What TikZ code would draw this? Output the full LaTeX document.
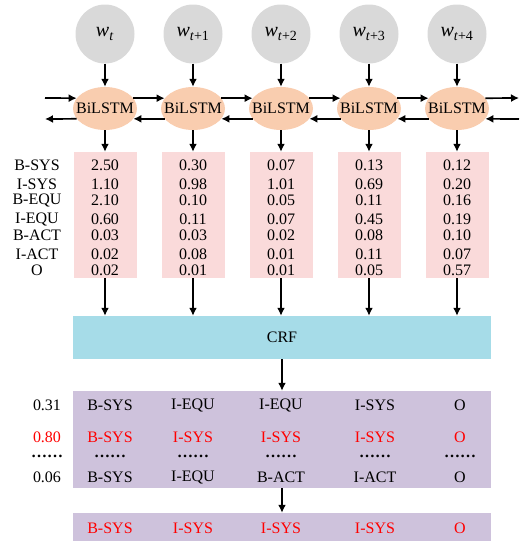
\documentclass[tikz,border=0pt]{standalone}
\usepackage{fontspec}
\setmainfont{Liberation Serif}
\usetikzlibrary{arrows.meta,shapes.geometric}

\definecolor{wordgray}{RGB}{217,217,217}
\definecolor{lstmpeach}{RGB}{249,205,175}
\definecolor{scorepink}{RGB}{250,218,218}
\definecolor{crfcyan}{RGB}{166,220,232}
\definecolor{tagpurple}{RGB}{206,194,220}
\definecolor{bestred}{RGB}{255,0,0}

\begin{document}
\begin{tikzpicture}[x=1pt, y=-1pt,
  every node/.style={font=\fontsize{16}{18}\selectfont},
  word/.style={circle, fill=wordgray, minimum size=59pt, inner sep=0pt, font=\fontsize{20}{22}\selectfont},
  lstm/.style={ellipse, fill=lstmpeach, minimum width=64pt, minimum height=43pt, inner sep=0pt, label={center:BiLSTM}},
  scorebox/.style={rectangle, fill=scorepink, minimum width=63pt, minimum height=126pt, inner sep=0pt},
  layer/.style={rectangle, minimum width=418pt, inner sep=0pt},
  dotrow/.style={inner sep=0pt, font=\bfseries\fontsize{16}{18}\selectfont},
  arr/.style={-{Latex[length=8pt,width=8pt]}, line width=1.7pt}
]
\useasboundingbox (0,0) rectangle (526,550);

% words, BiLSTM cells and emission scores
\foreach \c/\sub in {1/, 2/+1, 3/+2, 4/+3, 5/+4} {
  \pgfmathsetmacro\cx{17+88*\c}
  \node[word] (w\c) at (\cx,34) {\textit{w}\textsubscript{\textit{t}\sub}};
  \node[lstm] (b\c) at (\cx,108.5) {};
  \node[scorebox] (s\c) at (\cx,215) {};
  \draw[arr] (w\c) -- (b\c);
  \draw[arr] (b\c) -- (s\c);
}

% forward and backward links
\coordinate (fwdin) at (45,98);
\coordinate (bwdout) at (45,119);
\coordinate (fwdout) at (519,98);
\coordinate (bwdin) at (519,119);
\draw[arr] (fwdin) -- (b1.160);
\draw[arr] (b1.200) -- (bwdout);
\foreach \i/\j in {1/2, 2/3, 3/4, 4/5} {
  \draw[arr] (b\i.20) -- (b\j.160);
  \draw[arr] (b\j.200) -- (b\i.340);
}
\draw[arr] (b5.20) -- (fwdout);
\draw[arr] (bwdin) -- (b5.340);

\foreach \lab/\y/\vals [count=\r] in {
    B-SYS/165/{2.50,0.30,0.07,0.13,0.12},
    I-SYS/184/{1.10,0.98,1.01,0.69,0.20},
    B-EQU/200/{2.10,0.10,0.05,0.11,0.16},
    I-EQU/219/{0.60,0.11,0.07,0.45,0.19},
    B-ACT/235/{0.03,0.03,0.02,0.08,0.10},
    I-ACT/254/{0.02,0.08,0.01,0.11,0.07},
    O/270/{0.02,0.01,0.01,0.05,0.57}} {
  \node[inner sep=0pt] (lab\r) at (37,\y) {\lab};
  \foreach \v [count=\c] in \vals {
    \pgfmathsetmacro\cx{17+88*\c}
    \node[inner sep=0pt] (sc-\r-\c) at (\cx,\y) {\v};
  }
}

% CRF layer
\node[layer, fill=crfcyan, minimum height=43pt] (crf) at (282,337.5) {CRF};
\foreach \c in {1,...,5} {
  \draw[arr] (s\c.south) -- (s\c.south |- crf.north);
}

% candidate tag paths
\node[layer, fill=tagpurple, minimum height=97pt] (paths) at (282,439.5) {};
\node[layer, fill=tagpurple, minimum height=28pt] (best) at (282,527) {};
\draw[arr] (crf.south) -- (paths.north);
\draw[arr] (paths.south) -- (best.north);

\def\tagx{{110,193,281,375,460}}
\foreach \sc/\y/\col/\tags [count=\r] in {
    0.31/405/black/{B-SYS,I-EQU,I-EQU,I-SYS,O},
    0.80/437/bestred/{B-SYS,I-SYS,I-SYS,I-SYS,O},
    0.06/477/black/{B-SYS,I-EQU,B-ACT,I-ACT,O}} {
  \node[text=\col, inner sep=0pt] (psc\r) at (47,\y) {\sc};
  \foreach \t [count=\c] in \tags {
    \pgfmathsetmacro\tx{\tagx[\c-1]}
    \node[text=\col, inner sep=0pt] (tag-\r-\c) at (\tx,\y) {\t};
  }
}
\node[dotrow] (pdots) at (47,456) {\ldots\ldots};
\foreach \c in {1,...,5} {
  \pgfmathsetmacro\tx{\tagx[\c-1]}
  \node[dotrow] (dots\c) at (\tx,456) {\ldots\ldots};
}
\foreach \t [count=\c] in {B-SYS,I-SYS,I-SYS,I-SYS,O} {
  \pgfmathsetmacro\tx{\tagx[\c-1]}
  \node[text=bestred] (out\c) at (\tx,528) {\t};
}
\end{tikzpicture}
\end{document}
